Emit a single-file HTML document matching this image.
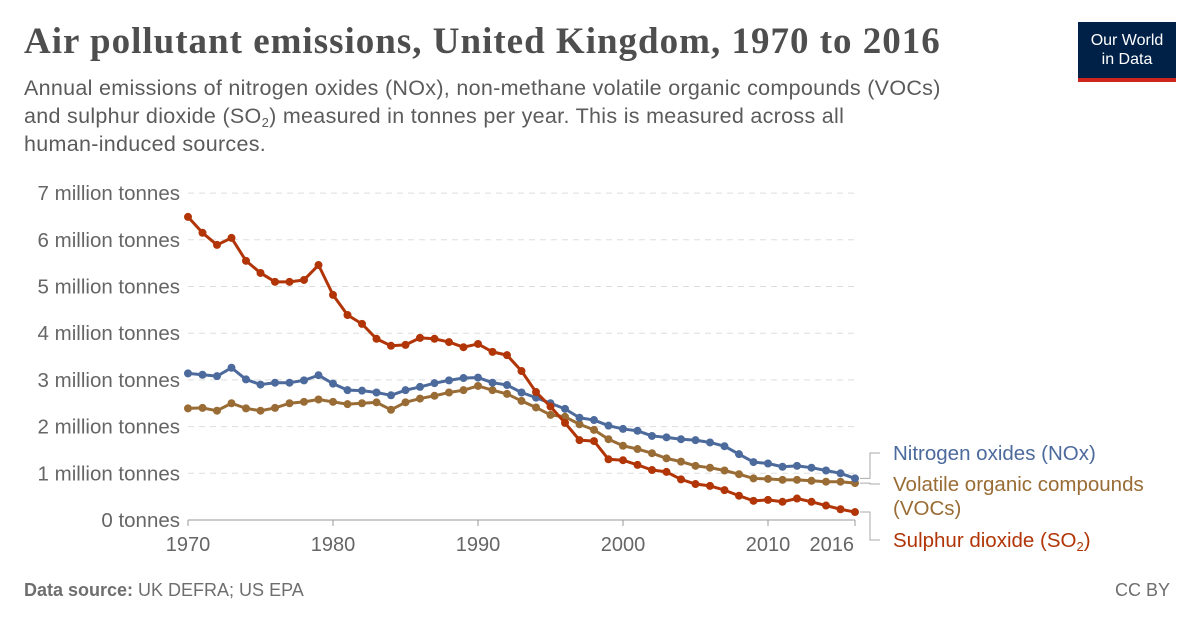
<!DOCTYPE html>
<html><head><meta charset="utf-8"><style>
body{margin:0;background:#fff;font-family:"Liberation Sans",sans-serif;}
#wrap{position:relative;width:1200px;height:627px;overflow:hidden;}
.t{position:absolute;}
sub{line-height:0;vertical-align:-4px;font-size:13px;}
</style></head><body>
<div id="wrap">
<div class="t" style="left:24px;top:20px;font-family:'Liberation Serif',serif;font-weight:bold;font-size:37px;color:#4e4e4e;letter-spacing:1px;white-space:nowrap;">Air pollutant emissions, United Kingdom, 1970 to 2016</div>
<div class="t" style="left:24px;top:74px;white-space:nowrap;font-size:21.5px;line-height:28px;letter-spacing:0.3px;color:#5b5b5b;">Annual emissions of nitrogen oxides (NOx), non-methane volatile organic compounds (VOCs)<br>and sulphur dioxide (SO<sub>2</sub>) measured in tonnes per year. This is measured across all<br>human-induced sources.</div>
<div class="t" style="left:1078px;top:22px;width:98px;background:#002147;border-bottom:4px solid #ce261e;color:#fff;font-size:16px;line-height:19px;text-align:center;padding-top:9px;box-sizing:border-box;height:60px;">Our World<br>in Data</div>
<svg class="t" style="left:0;top:0" width="1200" height="627" id="svg"></svg>
<div class="t" style="left:24px;top:580px;font-size:18px;color:#6e6e6e;"><b>Data source:</b> UK DEFRA; US EPA</div>
<div class="t" style="right:30px;top:580px;font-size:18px;color:#6e6e6e;">CC BY</div>
</div>
<script>
const years=[];for(let y=1970;y<=2016;y++)years.push(y);
const nox=[3.14,3.11,3.08,3.26,3.01,2.90,2.94,2.94,2.99,3.10,2.92,2.78,2.77,2.73,2.67,2.78,2.85,2.93,2.99,3.04,3.05,2.94,2.89,2.73,2.62,2.50,2.38,2.19,2.14,2.02,1.95,1.91,1.80,1.77,1.73,1.71,1.66,1.58,1.41,1.24,1.21,1.14,1.16,1.12,1.06,1.00,0.89];
const voc=[2.39,2.40,2.34,2.50,2.39,2.34,2.40,2.50,2.53,2.58,2.53,2.48,2.50,2.52,2.36,2.52,2.60,2.66,2.73,2.78,2.87,2.78,2.70,2.55,2.41,2.25,2.21,2.05,1.93,1.73,1.59,1.52,1.43,1.32,1.25,1.16,1.12,1.06,0.98,0.89,0.88,0.86,0.86,0.84,0.82,0.82,0.79];
const so2=[6.49,6.15,5.89,6.04,5.55,5.29,5.10,5.10,5.14,5.46,4.82,4.39,4.20,3.88,3.73,3.75,3.90,3.88,3.81,3.70,3.77,3.60,3.53,3.19,2.74,2.43,2.08,1.71,1.69,1.30,1.28,1.18,1.07,1.03,0.87,0.77,0.73,0.64,0.52,0.41,0.43,0.39,0.46,0.39,0.31,0.23,0.17];
const yTicks=[0,1,2,3,4,5,6,7];
const yTickLabels=["0 tonnes","1 million tonnes","2 million tonnes","3 million tonnes","4 million tonnes","5 million tonnes","6 million tonnes","7 million tonnes"];
const xTicks=[1970,1980,1990,2000,2010,2016];
const NS="http://www.w3.org/2000/svg",svg=document.getElementById('svg');
const X=y=>188+(y-1970)*(855-188)/46, Y=v=>520-v*46.7;
function el(t,a,p){const e=document.createElementNS(NS,t);for(const k in a)e.setAttribute(k,a[k]);(p||svg).appendChild(e);return e;}
yTicks.forEach((v,i)=>{
 if(v>0){const g=el('line',{x1:188,x2:855,y1:Y(v),y2:Y(v),stroke:'#ddd','stroke-dasharray':'6,5'});
 
 }
 const t=el('text',{x:180,y:Y(v)+7,'text-anchor':'end','font-size':20.5,fill:'#666','font-family':'Liberation Sans, sans-serif'});
 t.textContent=yTickLabels[i];
 
 
});
const ax=el('line',{x1:188,x2:855,y1:520,y2:520,stroke:'#999'});


xTicks.forEach(y=>{
 el('line',{x1:X(y),x2:X(y),y1:520,y2:526,stroke:'#999'});
 const last=y===2016;
 const t=el('text',{x:last?X(y)-1:X(y),y:551,'text-anchor':last?'end':'middle','font-size':20,fill:'#666','font-family':'Liberation Sans, sans-serif'});
 t.textContent=y;
 
 
});
function series(vals,col,name){
 const p=el('polyline',{points:vals.map((v,i)=>X(years[i])+','+Y(v)).join(' '),fill:'none',stroke:col,'stroke-width':3,'stroke-linejoin':'round'});
 
 
 vals.forEach((v,i)=>{const c=el('circle',{cx:X(years[i]),cy:Y(v),r:4,fill:col});
 
 });
}
series(voc,'#9a6c35','voc');
series(nox,'#4c6a9c','nox');
series(so2,'#b13507','so2');
function conn(yEnd,yLab){el('polyline',{points:`860,${yEnd} 870,${yEnd} 870,${yLab} 880,${yLab}`,fill:'none',stroke:'#aaa','stroke-width':1});}
conn(Y(nox[46]),453);conn(Y(voc[46]),484);conn(Y(so2[46]),540);
function lab(txt,y,col,name){const t=el('text',{x:893,y:y,'font-size':20.5,fill:col,'font-family':'Liberation Sans, sans-serif'});t.innerHTML=txt;
 
 }
lab('Nitrogen oxides (NOx)',460,'#4c6a9c','legend-nox');
lab('Volatile organic compounds',491,'#9a6c35','legend-voc');
lab('(VOCs)',515,'#9a6c35','legend-voc-2');
lab('Sulphur dioxide (SO<tspan font-size="13" dy="4">2</tspan><tspan dy="-4">)</tspan>',547,'#b13507','legend-so2');
</script>
</body></html>
